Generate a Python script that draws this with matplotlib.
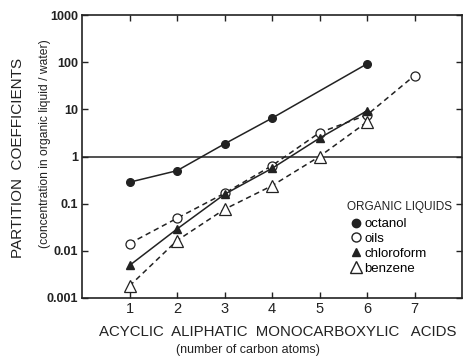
import matplotlib
matplotlib.use("Agg")
import matplotlib.pyplot as plt
from matplotlib.lines import Line2D

plt.rcParams['font.family'] = ['Liberation Sans', 'DejaVu Sans']

carbons_6 = [1, 2, 3, 4, 6]
octanol = [0.285, 0.5, 1.85, 6.5, 92]
carbons_oils = [1, 2, 3, 4, 5, 6, 7]
oils = [0.0143, 0.049, 0.166, 0.64, 3.2, 7.6, 52]
carbons_cf = [1, 2, 3, 4, 5, 6]
chloroform = [0.0049, 0.029, 0.158, 0.56, 2.45, 9.3]
benzene = [0.0018, 0.0165, 0.076, 0.24, 1.0, 5.4]
xticks = [1, 2, 3, 4, 5, 6, 7]
yticks = [0.001, 0.01, 0.1, 1, 10, 100, 1000]
ytick_labels = ['0.001', '0.01', '0.1', '1', '10', '100', '1000']
legend_labels = ['octanol', 'oils', 'chloroform', 'benzene']

fig = plt.figure(figsize=(4.74, 3.61), dpi=100)
ax = fig.add_axes([82/474, 1-298/361, (462-82)/474, (298-15)/361])
ax.set_yscale('log')
ax.set_xlim(0, 8)
ax.set_ylim(0.001, 1000)

ax.axhline(1, color='#222222', lw=1.1)
ax.plot(carbons_6, octanol, '-', color='#222222', lw=1.1, marker='o', ms=5.5,
        mfc='#222222', mec='#222222')
ax.plot(carbons_oils, oils, '--', color='#222222', lw=1.1, dashes=(3.5, 2.5), marker='o', ms=6.5,
        mfc='white', mec='#222222', mew=0.9)
ax.plot(carbons_cf, chloroform, '-', color='#222222', lw=1.1, marker='^', ms=6,
        mfc='#222222', mec='#222222')
ax.plot(carbons_cf, benzene, '--', color='#222222', lw=1.1, dashes=(3.5, 2.5), marker='^', ms=8,
        mfc='white', mec='#222222', mew=0.9)

ax.set_xticks(xticks)
ax.set_xticklabels([str(v) for v in xticks], fontsize=10.5)
ax.set_yticks(yticks)
ax.set_yticklabels(ytick_labels, fontsize=9, fontweight='bold')
ax.minorticks_off()
ax.tick_params(direction='in', length=4, width=1, top=True, right=True, colors='#222222', pad=3)
for s in ax.spines.values():
    s.set_linewidth(1.2)
    s.set_color('#222222')

handles = [
    Line2D([], [], ls='none', marker='o', ms=6, mfc='#222222', mec='#222222'),
    Line2D([], [], ls='none', marker='o', ms=6.5, mfc='white', mec='#222222'),
    Line2D([], [], ls='none', marker='^', ms=6, mfc='#222222', mec='#222222'),
    Line2D([], [], ls='none', marker='^', ms=8, mfc='white', mec='#222222'),
]
leg = ax.legend(handles, legend_labels, loc='upper left',
                frameon=False, fontsize=9.5,
                handlelength=0.6, handletextpad=0.35, labelspacing=0.2,
                borderpad=0, borderaxespad=0)
leg.set_bbox_to_anchor((352/474, 1-218/361), transform=fig.transFigure)

fig.text(347/474, 1-207/361, 'ORGANIC LIQUIDS', ha='left', va='center',
         fontsize=8.5, color='#222222')
fig.text(18/474, 1-158/361, 'PARTITION  COEFFICIENTS', rotation=90, ha='center', va='center',
         fontsize=11, color='#222222')
fig.text(45/474, 1-144/361, '(concentration in organic liquid / water)', rotation=90,
         ha='center', va='center', fontsize=8.7, color='#222222')
fig.text(278/474, 1-332/361, 'ACYCLIC  ALIPHATIC  MONOCARBOXYLIC   ACIDS', ha='center', va='center',
         fontsize=10.8, color='#222222')
fig.text(248/474, 1-350/361, '(number of carbon atoms)', ha='center', va='center',
         fontsize=9, color='#222222')

fig.savefig('out.png', dpi=100)
